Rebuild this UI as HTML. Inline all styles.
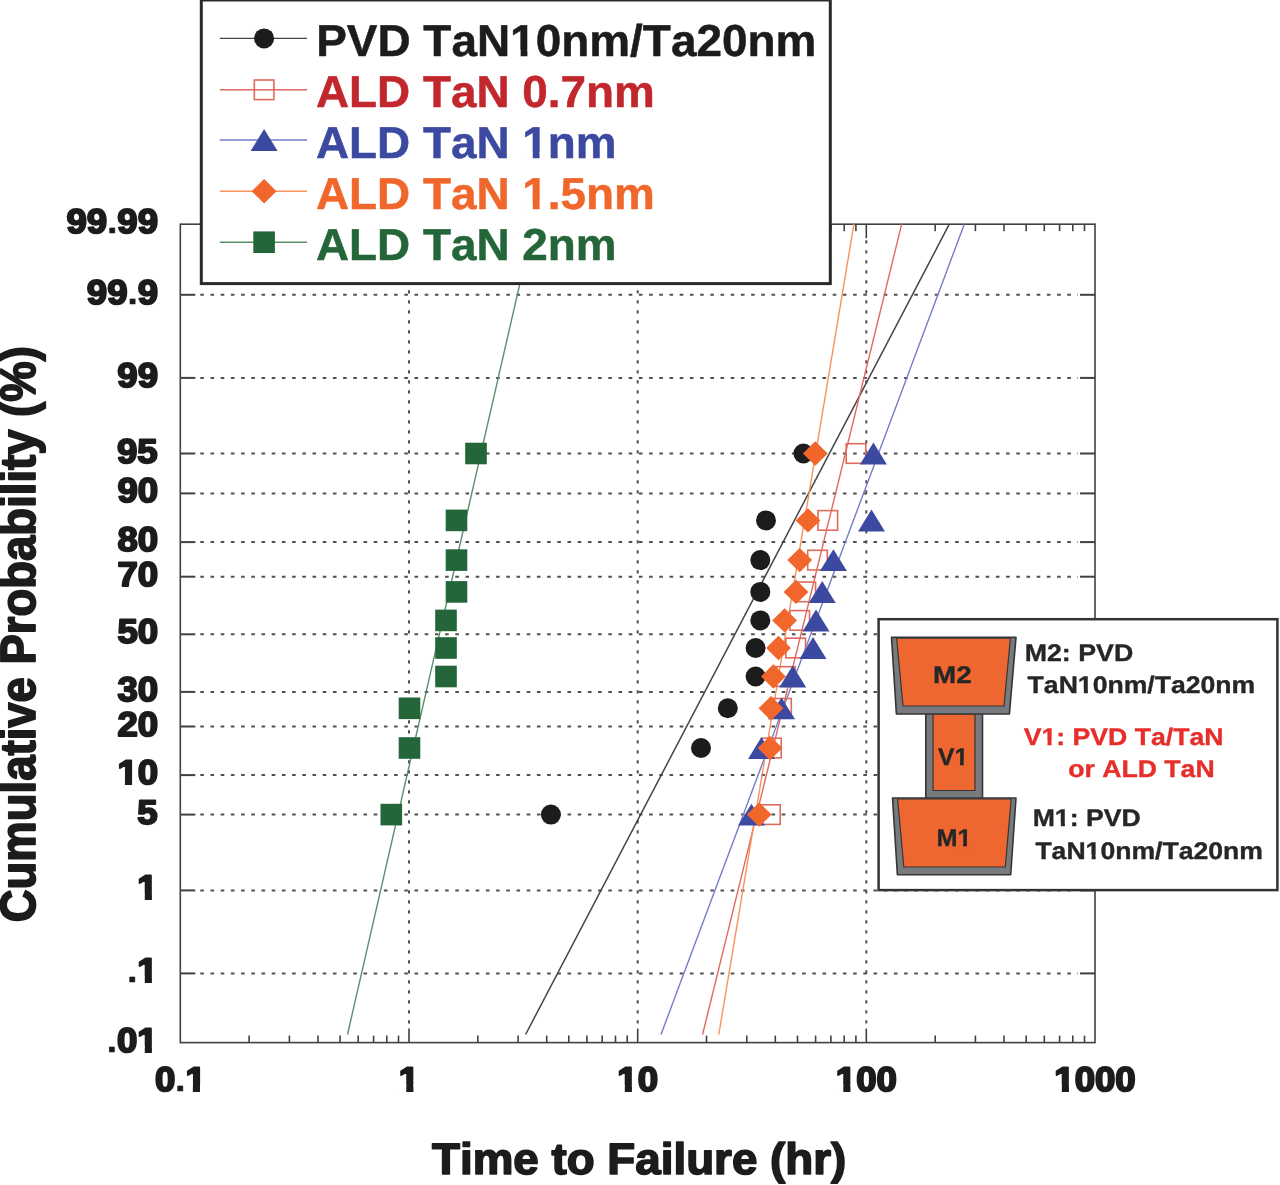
<!DOCTYPE html>
<html><head><meta charset="utf-8"><title>Cumulative Probability vs Time to Failure</title>
<style>
html,body{margin:0;padding:0;background:#fff;}
body{width:1280px;height:1185px;overflow:hidden;}
svg{display:block;}
text{font-family:"Liberation Sans",Arial,Helvetica,sans-serif;font-weight:bold;font-kerning:none;text-rendering:geometricPrecision;}
</style></head><body>
<svg width="1280" height="1185" viewBox="0 0 1280 1185">
<rect x="0" y="0" width="1280" height="1185" fill="#fff"/>
<rect x="180.3" y="224.2" width="914.7" height="818.4" fill="none" stroke="#404040" stroke-width="1.6"/>
<line x1="180.3" y1="294.8" x2="195.3" y2="294.8" stroke="#404040" stroke-width="2"/>
<line x1="200.3" y1="294.8" x2="1078.0" y2="294.8" stroke="#505050" stroke-width="2" stroke-dasharray="3.6 6.6"/>
<line x1="1080.0" y1="294.8" x2="1095.0" y2="294.8" stroke="#404040" stroke-width="2"/>
<line x1="180.3" y1="377.9" x2="195.3" y2="377.9" stroke="#404040" stroke-width="2"/>
<line x1="200.3" y1="377.9" x2="1078.0" y2="377.9" stroke="#505050" stroke-width="2" stroke-dasharray="3.6 6.6"/>
<line x1="1080.0" y1="377.9" x2="1095.0" y2="377.9" stroke="#404040" stroke-width="2"/>
<line x1="180.3" y1="453.5" x2="195.3" y2="453.5" stroke="#404040" stroke-width="2"/>
<line x1="200.3" y1="453.5" x2="1078.0" y2="453.5" stroke="#505050" stroke-width="2" stroke-dasharray="3.6 6.6"/>
<line x1="1080.0" y1="453.5" x2="1095.0" y2="453.5" stroke="#404040" stroke-width="2"/>
<line x1="180.3" y1="493.4" x2="195.3" y2="493.4" stroke="#404040" stroke-width="2"/>
<line x1="200.3" y1="493.4" x2="1078.0" y2="493.4" stroke="#505050" stroke-width="2" stroke-dasharray="3.6 6.6"/>
<line x1="1080.0" y1="493.4" x2="1095.0" y2="493.4" stroke="#404040" stroke-width="2"/>
<line x1="180.3" y1="542.1" x2="195.3" y2="542.1" stroke="#404040" stroke-width="2"/>
<line x1="200.3" y1="542.1" x2="1078.0" y2="542.1" stroke="#505050" stroke-width="2" stroke-dasharray="3.6 6.6"/>
<line x1="1080.0" y1="542.1" x2="1095.0" y2="542.1" stroke="#404040" stroke-width="2"/>
<line x1="180.3" y1="576.7" x2="195.3" y2="576.7" stroke="#404040" stroke-width="2"/>
<line x1="200.3" y1="576.7" x2="1078.0" y2="576.7" stroke="#505050" stroke-width="2" stroke-dasharray="3.6 6.6"/>
<line x1="1080.0" y1="576.7" x2="1095.0" y2="576.7" stroke="#404040" stroke-width="2"/>
<line x1="180.3" y1="634.3" x2="195.3" y2="634.3" stroke="#404040" stroke-width="2"/>
<line x1="200.3" y1="634.3" x2="1078.0" y2="634.3" stroke="#505050" stroke-width="2" stroke-dasharray="3.6 6.6"/>
<line x1="1080.0" y1="634.3" x2="1095.0" y2="634.3" stroke="#404040" stroke-width="2"/>
<line x1="180.3" y1="691.9" x2="195.3" y2="691.9" stroke="#404040" stroke-width="2"/>
<line x1="200.3" y1="691.9" x2="1078.0" y2="691.9" stroke="#505050" stroke-width="2" stroke-dasharray="3.6 6.6"/>
<line x1="1080.0" y1="691.9" x2="1095.0" y2="691.9" stroke="#404040" stroke-width="2"/>
<line x1="180.3" y1="726.5" x2="195.3" y2="726.5" stroke="#404040" stroke-width="2"/>
<line x1="200.3" y1="726.5" x2="1078.0" y2="726.5" stroke="#505050" stroke-width="2" stroke-dasharray="3.6 6.6"/>
<line x1="1080.0" y1="726.5" x2="1095.0" y2="726.5" stroke="#404040" stroke-width="2"/>
<line x1="180.3" y1="775.1" x2="195.3" y2="775.1" stroke="#404040" stroke-width="2"/>
<line x1="200.3" y1="775.1" x2="1078.0" y2="775.1" stroke="#505050" stroke-width="2" stroke-dasharray="3.6 6.6"/>
<line x1="1080.0" y1="775.1" x2="1095.0" y2="775.1" stroke="#404040" stroke-width="2"/>
<line x1="180.3" y1="814.6" x2="195.3" y2="814.6" stroke="#404040" stroke-width="2"/>
<line x1="200.3" y1="814.6" x2="1078.0" y2="814.6" stroke="#505050" stroke-width="2" stroke-dasharray="3.6 6.6"/>
<line x1="1080.0" y1="814.6" x2="1095.0" y2="814.6" stroke="#404040" stroke-width="2"/>
<line x1="180.3" y1="890.4" x2="195.3" y2="890.4" stroke="#404040" stroke-width="2"/>
<line x1="200.3" y1="890.4" x2="1078.0" y2="890.4" stroke="#505050" stroke-width="2" stroke-dasharray="3.6 6.6"/>
<line x1="1080.0" y1="890.4" x2="1095.0" y2="890.4" stroke="#404040" stroke-width="2"/>
<line x1="180.3" y1="973.4" x2="195.3" y2="973.4" stroke="#404040" stroke-width="2"/>
<line x1="200.3" y1="973.4" x2="1078.0" y2="973.4" stroke="#505050" stroke-width="2" stroke-dasharray="3.6 6.6"/>
<line x1="1080.0" y1="973.4" x2="1095.0" y2="973.4" stroke="#404040" stroke-width="2"/>
<line x1="409.0" y1="240.2" x2="409.0" y2="1028.6" stroke="#505050" stroke-width="2" stroke-dasharray="3.2 6.8"/>
<line x1="637.7" y1="240.2" x2="637.7" y2="1028.6" stroke="#505050" stroke-width="2" stroke-dasharray="3.2 6.8"/>
<line x1="866.3" y1="240.2" x2="866.3" y2="1028.6" stroke="#505050" stroke-width="2" stroke-dasharray="3.2 6.8"/>
<line x1="249.1" y1="1042.6" x2="249.1" y2="1035.6" stroke="#404040" stroke-width="1.6"/>
<line x1="249.1" y1="224.2" x2="249.1" y2="231.2" stroke="#404040" stroke-width="1.6"/>
<line x1="289.4" y1="1042.6" x2="289.4" y2="1035.6" stroke="#404040" stroke-width="1.6"/>
<line x1="289.4" y1="224.2" x2="289.4" y2="231.2" stroke="#404040" stroke-width="1.6"/>
<line x1="318.0" y1="1042.6" x2="318.0" y2="1035.6" stroke="#404040" stroke-width="1.6"/>
<line x1="318.0" y1="224.2" x2="318.0" y2="231.2" stroke="#404040" stroke-width="1.6"/>
<line x1="340.1" y1="1042.6" x2="340.1" y2="1035.6" stroke="#404040" stroke-width="1.6"/>
<line x1="340.1" y1="224.2" x2="340.1" y2="231.2" stroke="#404040" stroke-width="1.6"/>
<line x1="358.2" y1="1042.6" x2="358.2" y2="1035.6" stroke="#404040" stroke-width="1.6"/>
<line x1="358.2" y1="224.2" x2="358.2" y2="231.2" stroke="#404040" stroke-width="1.6"/>
<line x1="373.6" y1="1042.6" x2="373.6" y2="1035.6" stroke="#404040" stroke-width="1.6"/>
<line x1="373.6" y1="224.2" x2="373.6" y2="231.2" stroke="#404040" stroke-width="1.6"/>
<line x1="386.8" y1="1042.6" x2="386.8" y2="1035.6" stroke="#404040" stroke-width="1.6"/>
<line x1="386.8" y1="224.2" x2="386.8" y2="231.2" stroke="#404040" stroke-width="1.6"/>
<line x1="398.5" y1="1042.6" x2="398.5" y2="1035.6" stroke="#404040" stroke-width="1.6"/>
<line x1="398.5" y1="224.2" x2="398.5" y2="231.2" stroke="#404040" stroke-width="1.6"/>
<line x1="409.0" y1="1042.6" x2="409.0" y2="1028.6" stroke="#404040" stroke-width="1.6"/>
<line x1="409.0" y1="224.2" x2="409.0" y2="238.2" stroke="#404040" stroke-width="1.6"/>
<line x1="477.8" y1="1042.6" x2="477.8" y2="1035.6" stroke="#404040" stroke-width="1.6"/>
<line x1="477.8" y1="224.2" x2="477.8" y2="231.2" stroke="#404040" stroke-width="1.6"/>
<line x1="518.1" y1="1042.6" x2="518.1" y2="1035.6" stroke="#404040" stroke-width="1.6"/>
<line x1="518.1" y1="224.2" x2="518.1" y2="231.2" stroke="#404040" stroke-width="1.6"/>
<line x1="546.7" y1="1042.6" x2="546.7" y2="1035.6" stroke="#404040" stroke-width="1.6"/>
<line x1="546.7" y1="224.2" x2="546.7" y2="231.2" stroke="#404040" stroke-width="1.6"/>
<line x1="568.8" y1="1042.6" x2="568.8" y2="1035.6" stroke="#404040" stroke-width="1.6"/>
<line x1="568.8" y1="224.2" x2="568.8" y2="231.2" stroke="#404040" stroke-width="1.6"/>
<line x1="586.9" y1="1042.6" x2="586.9" y2="1035.6" stroke="#404040" stroke-width="1.6"/>
<line x1="586.9" y1="224.2" x2="586.9" y2="231.2" stroke="#404040" stroke-width="1.6"/>
<line x1="602.2" y1="1042.6" x2="602.2" y2="1035.6" stroke="#404040" stroke-width="1.6"/>
<line x1="602.2" y1="224.2" x2="602.2" y2="231.2" stroke="#404040" stroke-width="1.6"/>
<line x1="615.5" y1="1042.6" x2="615.5" y2="1035.6" stroke="#404040" stroke-width="1.6"/>
<line x1="615.5" y1="224.2" x2="615.5" y2="231.2" stroke="#404040" stroke-width="1.6"/>
<line x1="627.2" y1="1042.6" x2="627.2" y2="1035.6" stroke="#404040" stroke-width="1.6"/>
<line x1="627.2" y1="224.2" x2="627.2" y2="231.2" stroke="#404040" stroke-width="1.6"/>
<line x1="637.7" y1="1042.6" x2="637.7" y2="1028.6" stroke="#404040" stroke-width="1.6"/>
<line x1="637.7" y1="224.2" x2="637.7" y2="238.2" stroke="#404040" stroke-width="1.6"/>
<line x1="706.5" y1="1042.6" x2="706.5" y2="1035.6" stroke="#404040" stroke-width="1.6"/>
<line x1="706.5" y1="224.2" x2="706.5" y2="231.2" stroke="#404040" stroke-width="1.6"/>
<line x1="746.8" y1="1042.6" x2="746.8" y2="1035.6" stroke="#404040" stroke-width="1.6"/>
<line x1="746.8" y1="224.2" x2="746.8" y2="231.2" stroke="#404040" stroke-width="1.6"/>
<line x1="775.3" y1="1042.6" x2="775.3" y2="1035.6" stroke="#404040" stroke-width="1.6"/>
<line x1="775.3" y1="224.2" x2="775.3" y2="231.2" stroke="#404040" stroke-width="1.6"/>
<line x1="797.5" y1="1042.6" x2="797.5" y2="1035.6" stroke="#404040" stroke-width="1.6"/>
<line x1="797.5" y1="224.2" x2="797.5" y2="231.2" stroke="#404040" stroke-width="1.6"/>
<line x1="815.6" y1="1042.6" x2="815.6" y2="1035.6" stroke="#404040" stroke-width="1.6"/>
<line x1="815.6" y1="224.2" x2="815.6" y2="231.2" stroke="#404040" stroke-width="1.6"/>
<line x1="830.9" y1="1042.6" x2="830.9" y2="1035.6" stroke="#404040" stroke-width="1.6"/>
<line x1="830.9" y1="224.2" x2="830.9" y2="231.2" stroke="#404040" stroke-width="1.6"/>
<line x1="844.2" y1="1042.6" x2="844.2" y2="1035.6" stroke="#404040" stroke-width="1.6"/>
<line x1="844.2" y1="224.2" x2="844.2" y2="231.2" stroke="#404040" stroke-width="1.6"/>
<line x1="855.9" y1="1042.6" x2="855.9" y2="1035.6" stroke="#404040" stroke-width="1.6"/>
<line x1="855.9" y1="224.2" x2="855.9" y2="231.2" stroke="#404040" stroke-width="1.6"/>
<line x1="866.3" y1="1042.6" x2="866.3" y2="1028.6" stroke="#404040" stroke-width="1.6"/>
<line x1="866.3" y1="224.2" x2="866.3" y2="238.2" stroke="#404040" stroke-width="1.6"/>
<line x1="935.2" y1="1042.6" x2="935.2" y2="1035.6" stroke="#404040" stroke-width="1.6"/>
<line x1="935.2" y1="224.2" x2="935.2" y2="231.2" stroke="#404040" stroke-width="1.6"/>
<line x1="975.4" y1="1042.6" x2="975.4" y2="1035.6" stroke="#404040" stroke-width="1.6"/>
<line x1="975.4" y1="224.2" x2="975.4" y2="231.2" stroke="#404040" stroke-width="1.6"/>
<line x1="1004.0" y1="1042.6" x2="1004.0" y2="1035.6" stroke="#404040" stroke-width="1.6"/>
<line x1="1004.0" y1="224.2" x2="1004.0" y2="231.2" stroke="#404040" stroke-width="1.6"/>
<line x1="1026.2" y1="1042.6" x2="1026.2" y2="1035.6" stroke="#404040" stroke-width="1.6"/>
<line x1="1026.2" y1="224.2" x2="1026.2" y2="231.2" stroke="#404040" stroke-width="1.6"/>
<line x1="1044.3" y1="1042.6" x2="1044.3" y2="1035.6" stroke="#404040" stroke-width="1.6"/>
<line x1="1044.3" y1="224.2" x2="1044.3" y2="231.2" stroke="#404040" stroke-width="1.6"/>
<line x1="1059.6" y1="1042.6" x2="1059.6" y2="1035.6" stroke="#404040" stroke-width="1.6"/>
<line x1="1059.6" y1="224.2" x2="1059.6" y2="231.2" stroke="#404040" stroke-width="1.6"/>
<line x1="1072.8" y1="1042.6" x2="1072.8" y2="1035.6" stroke="#404040" stroke-width="1.6"/>
<line x1="1072.8" y1="224.2" x2="1072.8" y2="231.2" stroke="#404040" stroke-width="1.6"/>
<line x1="1084.5" y1="1042.6" x2="1084.5" y2="1035.6" stroke="#404040" stroke-width="1.6"/>
<line x1="1084.5" y1="224.2" x2="1084.5" y2="231.2" stroke="#404040" stroke-width="1.6"/>
<line x1="949.3" y1="224.2" x2="525.6" y2="1034.5" stroke="#444" stroke-width="1.5"/>
<line x1="901.7" y1="224.2" x2="702.6" y2="1034.5" stroke="#e06a5c" stroke-width="1.4"/>
<line x1="964.3" y1="224.2" x2="661.0" y2="1034.5" stroke="#747dc6" stroke-width="1.4"/>
<line x1="853.9" y1="224.2" x2="718.8" y2="1034.5" stroke="#f69460" stroke-width="1.4"/>
<line x1="533.5" y1="224.2" x2="347.5" y2="1034.5" stroke="#5a8f6b" stroke-width="1.4"/>
<circle cx="550.9" cy="814.6" r="10" fill="#1c1c1c"/>
<circle cx="701.0" cy="748.0" r="10" fill="#1c1c1c"/>
<circle cx="727.8" cy="708.3" r="10" fill="#1c1c1c"/>
<circle cx="755.6" cy="676.5" r="10" fill="#1c1c1c"/>
<circle cx="755.6" cy="648.0" r="10" fill="#1c1c1c"/>
<circle cx="760.3" cy="620.4" r="10" fill="#1c1c1c"/>
<circle cx="760.3" cy="591.9" r="10" fill="#1c1c1c"/>
<circle cx="760.3" cy="560.1" r="10" fill="#1c1c1c"/>
<circle cx="766.0" cy="520.4" r="10" fill="#1c1c1c"/>
<circle cx="803.4" cy="453.5" r="10" fill="#1c1c1c"/>
<rect x="760.6" y="804.8" width="19.6" height="19.6" fill="none" stroke="#e06a5c" stroke-width="1.6"/>
<rect x="761.6" y="738.2" width="19.6" height="19.6" fill="none" stroke="#e06a5c" stroke-width="1.6"/>
<rect x="771.7" y="698.5" width="19.6" height="19.6" fill="none" stroke="#e06a5c" stroke-width="1.6"/>
<rect x="775.7" y="666.7" width="19.6" height="19.6" fill="none" stroke="#e06a5c" stroke-width="1.6"/>
<rect x="785.9" y="638.2" width="19.6" height="19.6" fill="none" stroke="#e06a5c" stroke-width="1.6"/>
<rect x="789.9" y="610.6" width="19.6" height="19.6" fill="none" stroke="#e06a5c" stroke-width="1.6"/>
<rect x="796.0" y="582.1" width="19.6" height="19.6" fill="none" stroke="#e06a5c" stroke-width="1.6"/>
<rect x="807.7" y="550.3" width="19.6" height="19.6" fill="none" stroke="#e06a5c" stroke-width="1.6"/>
<rect x="818.0" y="510.6" width="19.6" height="19.6" fill="none" stroke="#e06a5c" stroke-width="1.6"/>
<rect x="846.2" y="443.7" width="19.6" height="19.6" fill="none" stroke="#e06a5c" stroke-width="1.6"/>
<path d="M751.5 803.7 L765.0 825.6 L738.0 825.6 Z" fill="#3b4aa0"/>
<path d="M761.5 737.1 L775.0 759.0 L748.0 759.0 Z" fill="#3b4aa0"/>
<path d="M781.5 697.4 L795.0 719.3 L768.0 719.3 Z" fill="#3b4aa0"/>
<path d="M792.7 665.6 L806.2 687.5 L779.2 687.5 Z" fill="#3b4aa0"/>
<path d="M813.0 637.1 L826.5 659.0 L799.5 659.0 Z" fill="#3b4aa0"/>
<path d="M816.0 609.5 L829.5 631.4 L802.5 631.4 Z" fill="#3b4aa0"/>
<path d="M822.2 581.0 L835.7 602.9 L808.7 602.9 Z" fill="#3b4aa0"/>
<path d="M833.4 549.2 L846.9 571.1 L819.9 571.1 Z" fill="#3b4aa0"/>
<path d="M871.5 509.5 L885.0 531.4 L858.0 531.4 Z" fill="#3b4aa0"/>
<path d="M873.4 442.6 L886.9 464.5 L859.9 464.5 Z" fill="#3b4aa0"/>
<path d="M759.2 802.4 L771.6 814.6 L759.2 826.8 L746.8 814.6 Z" fill="#f0662b"/>
<path d="M770.0 735.8 L782.4 748.0 L770.0 760.2 L757.6 748.0 Z" fill="#f0662b"/>
<path d="M771.0 696.1 L783.4 708.3 L771.0 720.5 L758.6 708.3 Z" fill="#f0662b"/>
<path d="M773.4 664.3 L785.8 676.5 L773.4 688.7 L761.0 676.5 Z" fill="#f0662b"/>
<path d="M778.5 635.8 L790.9 648.0 L778.5 660.2 L766.1 648.0 Z" fill="#f0662b"/>
<path d="M784.6 608.2 L797.0 620.4 L784.6 632.6 L772.2 620.4 Z" fill="#f0662b"/>
<path d="M796.0 579.7 L808.4 591.9 L796.0 604.1 L783.6 591.9 Z" fill="#f0662b"/>
<path d="M799.7 547.9 L812.1 560.1 L799.7 572.3 L787.3 560.1 Z" fill="#f0662b"/>
<path d="M808.0 508.2 L820.4 520.4 L808.0 532.6 L795.6 520.4 Z" fill="#f0662b"/>
<path d="M815.3 441.3 L827.7 453.5 L815.3 465.7 L802.9 453.5 Z" fill="#f0662b"/>
<rect x="380.5" y="803.8" width="21.6" height="21.6" fill="#24653a"/>
<rect x="398.7" y="737.2" width="21.6" height="21.6" fill="#24653a"/>
<rect x="398.7" y="697.5" width="21.6" height="21.6" fill="#24653a"/>
<rect x="435.2" y="665.7" width="21.6" height="21.6" fill="#24653a"/>
<rect x="435.2" y="637.2" width="21.6" height="21.6" fill="#24653a"/>
<rect x="435.2" y="609.6" width="21.6" height="21.6" fill="#24653a"/>
<rect x="445.7" y="581.1" width="21.6" height="21.6" fill="#24653a"/>
<rect x="445.7" y="549.3" width="21.6" height="21.6" fill="#24653a"/>
<rect x="445.7" y="509.6" width="21.6" height="21.6" fill="#24653a"/>
<rect x="465.2" y="442.7" width="21.6" height="21.6" fill="#24653a"/>
<rect x="201.3" y="0" width="629" height="283.6" fill="#fff" stroke="#2a2a2a" stroke-width="3"/>
<line x1="219.8" y1="38.4" x2="307" y2="38.4" stroke="#444" stroke-width="1.4"/>
<circle cx="264.1" cy="38.4" r="10" fill="#1c1c1c"/>
<g transform="translate(316.18,56.00) scale(1.0276,1)">
<text font-size="44.7" fill="#1c1c1c" stroke="#1c1c1c" stroke-width="0.5" stroke-linejoin="round">PVD TaN10nm/Ta20nm</text>
<rect x="190.54" y="-6.11" width="8.42" height="8.06" fill="#fff"/>
<rect x="205.59" y="-6.11" width="7.85" height="8.06" fill="#fff"/>
</g>
<line x1="219.8" y1="89.8" x2="307" y2="89.8" stroke="#e06a5c" stroke-width="1.4"/>
<rect x="254.3" y="80.0" width="19.6" height="19.6" fill="none" stroke="#e06a5c" stroke-width="1.6"/>
<g transform="translate(315.91,107.00) scale(1.0262,1)">
<text font-size="44.7" fill="#c1272d" stroke="#c1272d" stroke-width="0.5" stroke-linejoin="round">ALD TaN 0.7nm</text>
</g>
<line x1="219.8" y1="140.0" x2="307" y2="140.0" stroke="#747dc6" stroke-width="1.4"/>
<path d="M264.1 129.1 L277.6 151.0 L250.6 151.0 Z" fill="#3b4aa0"/>
<g transform="translate(315.91,158.00) scale(1.0260,1)">
<text font-size="44.7" fill="#3b4aa0" stroke="#3b4aa0" stroke-width="0.5" stroke-linejoin="round">ALD TaN 1nm</text>
<rect x="202.92" y="-6.11" width="8.42" height="8.06" fill="#fff"/>
<rect x="217.97" y="-6.11" width="7.85" height="8.06" fill="#fff"/>
</g>
<line x1="219.8" y1="191.3" x2="307" y2="191.3" stroke="#f69460" stroke-width="1.4"/>
<path d="M264.1 179.1 L276.5 191.3 L264.1 203.5 L251.7 191.3 Z" fill="#f0662b"/>
<g transform="translate(315.91,209.30) scale(1.0262,1)">
<text font-size="44.7" fill="#f0662b" stroke="#f0662b" stroke-width="0.5" stroke-linejoin="round">ALD TaN 1.5nm</text>
<rect x="202.92" y="-6.11" width="8.42" height="8.06" fill="#fff"/>
<rect x="217.97" y="-6.11" width="7.85" height="8.06" fill="#fff"/>
</g>
<line x1="219.8" y1="242.2" x2="307" y2="242.2" stroke="#5a8f6b" stroke-width="1.4"/>
<rect x="253.3" y="231.4" width="21.6" height="21.6" fill="#24653a"/>
<g transform="translate(315.91,260.00) scale(1.0260,1)">
<text font-size="44.7" fill="#24653a" stroke="#24653a" stroke-width="0.5" stroke-linejoin="round">ALD TaN 2nm</text>
</g>
<g transform="translate(66.54,233.20) scale(1.0650,1)">
<text font-size="34.3" fill="#1c1c1c" stroke="#1c1c1c" stroke-width="2.0" stroke-linejoin="round">99<tspan stroke-width="0.5">.</tspan>99</text>
</g>
<g transform="translate(86.86,303.80) scale(1.0650,1)">
<text font-size="34.3" fill="#1c1c1c" stroke="#1c1c1c" stroke-width="2.0" stroke-linejoin="round">99<tspan stroke-width="0.5">.</tspan>9</text>
</g>
<g transform="translate(117.32,386.90) scale(1.0650,1)">
<text font-size="34.3" fill="#1c1c1c" stroke="#1c1c1c" stroke-width="2.0" stroke-linejoin="round">99</text>
</g>
<g transform="translate(116.98,462.50) scale(1.0650,1)">
<text font-size="34.3" fill="#1c1c1c" stroke="#1c1c1c" stroke-width="2.0" stroke-linejoin="round">95</text>
</g>
<g transform="translate(117.47,502.40) scale(1.0650,1)">
<text font-size="34.3" fill="#1c1c1c" stroke="#1c1c1c" stroke-width="2.0" stroke-linejoin="round">90</text>
</g>
<g transform="translate(117.47,551.10) scale(1.0650,1)">
<text font-size="34.3" fill="#1c1c1c" stroke="#1c1c1c" stroke-width="2.0" stroke-linejoin="round">80</text>
</g>
<g transform="translate(117.47,585.70) scale(1.0650,1)">
<text font-size="34.3" fill="#1c1c1c" stroke="#1c1c1c" stroke-width="2.0" stroke-linejoin="round">70</text>
</g>
<g transform="translate(117.47,643.30) scale(1.0650,1)">
<text font-size="34.3" fill="#1c1c1c" stroke="#1c1c1c" stroke-width="2.0" stroke-linejoin="round">50</text>
</g>
<g transform="translate(117.47,700.90) scale(1.0650,1)">
<text font-size="34.3" fill="#1c1c1c" stroke="#1c1c1c" stroke-width="2.0" stroke-linejoin="round">30</text>
</g>
<g transform="translate(117.47,735.50) scale(1.0650,1)">
<text font-size="34.3" fill="#1c1c1c" stroke="#1c1c1c" stroke-width="2.0" stroke-linejoin="round">20</text>
</g>
<g transform="translate(117.47,784.10) scale(1.0650,1)">
<text font-size="34.3" fill="#1c1c1c" stroke="#1c1c1c" stroke-width="2.0" stroke-linejoin="round">10</text>
<rect x="0.36" y="-5.80" width="6.65" height="8.50" fill="#fff"/>
<rect x="13.71" y="-5.80" width="6.21" height="8.50" fill="#fff"/>
</g>
<g transform="translate(137.30,823.60) scale(1.0650,1)">
<text font-size="34.3" fill="#1c1c1c" stroke="#1c1c1c" stroke-width="2.0" stroke-linejoin="round">5</text>
</g>
<g transform="translate(137.30,899.40) scale(1.0650,1)">
<text font-size="34.3" fill="#1c1c1c" stroke="#1c1c1c" stroke-width="2.0" stroke-linejoin="round">1</text>
<rect x="0.36" y="-5.80" width="6.65" height="8.50" fill="#fff"/>
<rect x="13.71" y="-5.80" width="6.21" height="8.50" fill="#fff"/>
</g>
<g transform="translate(127.15,982.40) scale(1.0650,1)">
<text font-size="34.3" fill="#1c1c1c" stroke="#1c1c1c" stroke-width="2.0" stroke-linejoin="round"><tspan stroke-width="0.5">.</tspan>1</text>
<rect x="9.89" y="-5.80" width="6.65" height="8.50" fill="#fff"/>
<rect x="23.24" y="-5.80" width="6.21" height="8.50" fill="#fff"/>
</g>
<g transform="translate(106.84,1051.60) scale(1.0650,1)">
<text font-size="34.3" fill="#1c1c1c" stroke="#1c1c1c" stroke-width="2.0" stroke-linejoin="round"><tspan stroke-width="0.5">.</tspan>01</text>
<rect x="28.97" y="-5.80" width="6.65" height="8.50" fill="#fff"/>
<rect x="42.32" y="-5.80" width="6.21" height="8.50" fill="#fff"/>
</g>
<g transform="translate(154.91,1090.60) scale(1.0650,1)">
<text font-size="34.3" fill="#1c1c1c" stroke="#1c1c1c" stroke-width="2.0" stroke-linejoin="round">0<tspan stroke-width="0.5">.</tspan>1</text>
<rect x="28.97" y="-5.80" width="6.65" height="8.50" fill="#fff"/>
<rect x="42.32" y="-5.80" width="6.21" height="8.50" fill="#fff"/>
</g>
<g transform="translate(398.82,1090.60) scale(1.0650,1)">
<text font-size="34.3" fill="#1c1c1c" stroke="#1c1c1c" stroke-width="2.0" stroke-linejoin="round">1</text>
<rect x="0.36" y="-5.80" width="6.65" height="8.50" fill="#fff"/>
<rect x="13.71" y="-5.80" width="6.21" height="8.50" fill="#fff"/>
</g>
<g transform="translate(617.33,1090.60) scale(1.0650,1)">
<text font-size="34.3" fill="#1c1c1c" stroke="#1c1c1c" stroke-width="2.0" stroke-linejoin="round">10</text>
<rect x="0.36" y="-5.80" width="6.65" height="8.50" fill="#fff"/>
<rect x="13.71" y="-5.80" width="6.21" height="8.50" fill="#fff"/>
</g>
<g transform="translate(835.85,1090.60) scale(1.0650,1)">
<text font-size="34.3" fill="#1c1c1c" stroke="#1c1c1c" stroke-width="2.0" stroke-linejoin="round">100</text>
<rect x="0.36" y="-5.80" width="6.65" height="8.50" fill="#fff"/>
<rect x="13.71" y="-5.80" width="6.21" height="8.50" fill="#fff"/>
</g>
<g transform="translate(1054.37,1090.60) scale(1.0650,1)">
<text font-size="34.3" fill="#1c1c1c" stroke="#1c1c1c" stroke-width="2.0" stroke-linejoin="round">1000</text>
<rect x="0.36" y="-5.80" width="6.65" height="8.50" fill="#fff"/>
<rect x="13.71" y="-5.80" width="6.21" height="8.50" fill="#fff"/>
</g>
<g transform="translate(431.99,1174.20) scale(1.0397,1)">
<text font-size="44" fill="#1c1c1c" stroke="#1c1c1c" stroke-width="1.6" stroke-linejoin="round">Time to Failure (hr)</text>
</g>
<g transform="translate(35.3,0) rotate(-90)">
<g transform="translate(-922.27,0.00) scale(0.9187,1)">
<text font-size="49.5" fill="#1c1c1c" stroke="#1c1c1c" stroke-width="1.8" stroke-linejoin="round">Cumulative Probability (%)</text>
</g>
</g>
<rect x="878.6" y="619.2" width="398.8" height="270.9" fill="#fff" stroke="#333" stroke-width="2.5"/>
<polygon points="925.8,712.0 982.5,712.0 982.5,799.0 925.8,799.0" fill="#777b7f" stroke="#363636" stroke-width="1.6" stroke-linejoin="round"/>
<polygon points="933.0,714.0 975.0,714.0 975.0,790.5 933.0,790.5" fill="#ee6630" stroke="#363636" stroke-width="1.2" stroke-linejoin="round"/>
<polygon points="891.5,637.4 1016.0,637.4 1009.4,714.0 896.4,714.0" fill="#777b7f" stroke="#363636" stroke-width="1.6" stroke-linejoin="round"/>
<polygon points="896.6,638.2 1010.4,638.2 1004.0,706.0 903.0,706.0" fill="#ee6630" stroke="#363636" stroke-width="1.2" stroke-linejoin="round"/>
<polygon points="892.5,798.0 1016.0,798.0 1010.7,874.7 897.4,874.7" fill="#777b7f" stroke="#363636" stroke-width="1.6" stroke-linejoin="round"/>
<polygon points="897.6,799.0 1011.2,799.0 1005.3,867.0 903.8,867.0" fill="#ee6630" stroke="#363636" stroke-width="1.2" stroke-linejoin="round"/>
<g transform="translate(933.12,683.40) scale(1.1585,1)">
<text font-size="24" fill="#262626" stroke="#262626" stroke-width="0.35" stroke-linejoin="round">M2</text>
</g>
<g transform="translate(938.01,765.20) scale(1.0255,1)">
<text font-size="24" fill="#262626" stroke="#262626" stroke-width="0.35" stroke-linejoin="round">V1</text>
<rect x="16.54" y="-3.92" width="4.89" height="5.80" fill="#ee6630"/>
<rect x="25.08" y="-3.92" width="4.59" height="5.80" fill="#ee6630"/>
</g>
<g transform="translate(936.39,846.40) scale(1.0510,1)">
<text font-size="24" fill="#262626" stroke="#262626" stroke-width="0.35" stroke-linejoin="round">M1</text>
<rect x="20.53" y="-3.92" width="4.89" height="5.80" fill="#ee6630"/>
<rect x="29.06" y="-3.92" width="4.59" height="5.80" fill="#ee6630"/>
</g>
<g transform="translate(1024.68,661.40) scale(1.1152,1)">
<text font-size="24" fill="#262626" stroke="#262626" stroke-width="0.35" stroke-linejoin="round">M2: PVD</text>
</g>
<g transform="translate(1027.58,693.20) scale(1.1085,1)">
<text font-size="24" fill="#262626" stroke="#262626" stroke-width="0.35" stroke-linejoin="round">TaN10nm/Ta20nm</text>
<rect x="45.88" y="-3.92" width="4.89" height="5.80" fill="#fff"/>
<rect x="54.41" y="-3.92" width="4.59" height="5.80" fill="#fff"/>
</g>
<g transform="translate(1023.69,744.80) scale(1.1104,1)">
<text font-size="24" fill="#e62e2b" stroke="#e62e2b" stroke-width="0.35" stroke-linejoin="round">V1: PVD Ta/TaN</text>
<rect x="16.54" y="-3.92" width="4.89" height="5.80" fill="#fff"/>
<rect x="25.08" y="-3.92" width="4.59" height="5.80" fill="#fff"/>
</g>
<g transform="translate(1068.13,776.80) scale(1.1097,1)">
<text font-size="24" fill="#e62e2b" stroke="#e62e2b" stroke-width="0.35" stroke-linejoin="round">or ALD TaN</text>
</g>
<g transform="translate(1032.69,826.30) scale(1.1089,1)">
<text font-size="24" fill="#262626" stroke="#262626" stroke-width="0.35" stroke-linejoin="round">M1: PVD</text>
<rect x="20.53" y="-3.92" width="4.89" height="5.80" fill="#fff"/>
<rect x="29.06" y="-3.92" width="4.59" height="5.80" fill="#fff"/>
</g>
<g transform="translate(1035.38,858.50) scale(1.1080,1)">
<text font-size="24" fill="#262626" stroke="#262626" stroke-width="0.35" stroke-linejoin="round">TaN10nm/Ta20nm</text>
<rect x="45.88" y="-3.92" width="4.89" height="5.80" fill="#fff"/>
<rect x="54.41" y="-3.92" width="4.59" height="5.80" fill="#fff"/>
</g>
</svg>
</body></html>
